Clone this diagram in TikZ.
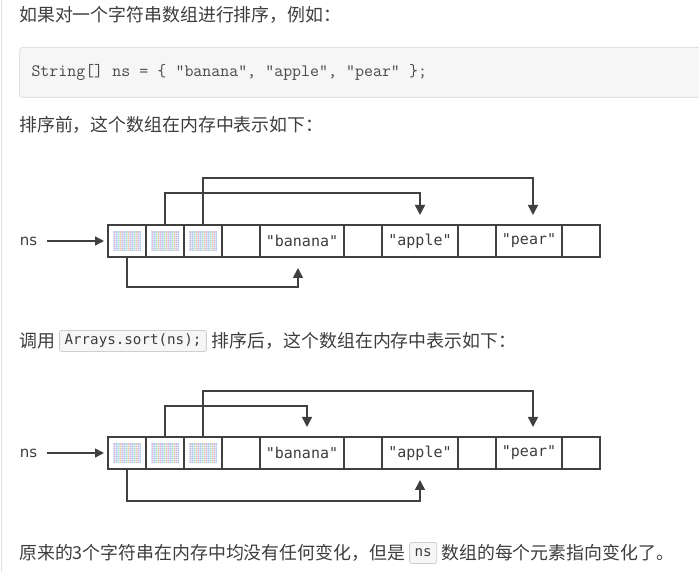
\documentclass[tikz,border=0pt]{standalone}
\usepackage{fontspec}
\usepackage{tikz}
\usetikzlibrary{arrows.meta,positioning,calc}
\newfontfamily\cjk{Noto Sans CJK SC}
\newfontfamily\monolbl{DejaVu Sans Mono}
\newfontfamily\sanslbl{DejaVu Sans}
\definecolor{jtext}{HTML}{3D3D3D}
\definecolor{jline}{HTML}{404040}
\definecolor{jcode}{HTML}{4A4A4A}
\definecolor{jcodebg}{HTML}{F6F6F6}
\definecolor{jcodeedge}{HTML}{E2E2E2}
\definecolor{jinedge}{HTML}{CFCFCF}
\definecolor{jpage}{HTML}{E0E0E0}
\definecolor{jpink}{HTML}{E4B0D6}
\definecolor{jblue}{HTML}{A9C6EE}
\definecolor{jgreen}{HTML}{B6DEC0}
\definecolor{jorange}{HTML}{EEC69E}
\tikzset{
  para/.style={anchor=west,inner sep=0pt,text=jtext,
               font=\cjk\fontsize{17.9}{22}\selectfont},
  codeblock/.style={draw=jcodeedge,fill=jcodebg,rounded corners=3pt,line width=1pt,
                    anchor=north west,minimum width=700pt,minimum height=50pt,
                    inner xsep=12pt,inner ysep=0pt,text width=676pt,align=left,
                    text=jcode,font=\ttfamily\fontsize{17.4}{20}\selectfont},
  inlinecode/.style={draw=jinedge,fill=jcodebg,rounded corners=2pt,line width=0.8pt,
                     inner xsep=5pt,inner ysep=0pt,minimum height=21pt,text=jtext,
                     font=\monolbl\fontsize{14.2}{16}\selectfont},
  cell/.style={draw=jline,line width=1.5pt,minimum width=38pt,minimum height=32pt,
               inner sep=0pt,outer sep=0pt,text=jtext,
               font=\monolbl\fontsize{15}{18}\selectfont},
  nslab/.style={inner sep=0pt,text=jtext,font=\sanslbl\fontsize{15}{18}\selectfont},
  ptr/.style={-{Triangle[length=10pt,width=10pt]},line width=1.5pt,jline},
  inarr/.style={-{Triangle[length=9pt,width=9pt]},line width=1.5pt,jline},
  stripe0/.style={jpink},
  stripe1/.style={jblue},
  stripe2/.style={jgreen},
  stripe3/.style={jorange},
}
% coloured grid that stands for a stored reference
\newcommand\ptrfill[1]{%
  \fill[jblue!60] ([shift={(5pt,6pt)}]#1.south west) rectangle ([shift={(-5pt,-6pt)}]#1.north east);
  \foreach \i in {0,...,13}{
    \pgfmathtruncatemacro\k{mod(\i,4)}
    \draw[stripe\k,line width=1pt] ([xshift=\i*2pt+6pt,yshift=6pt]#1.south west) -- ++(0,20pt);
  }
  \foreach \j in {1,...,9}{
    \draw[white,opacity=.5,line width=.6pt] ([xshift=5pt,yshift=6pt+\j*2pt]#1.south west) -- ++(28pt,0);
  }
}
% one array row in memory: #1 prefix, #2 y
\newcommand\memrow[2]{%
  \node[nslab] (#1ns) at (28.5,#2) {ns};
  \node[cell,anchor=west] (#1c1) at (108,#2) {};
  \node[cell,right=0pt of #1c1] (#1c2) {};
  \node[cell,right=0pt of #1c2] (#1c3) {};
  \node[cell,right=0pt of #1c3] (#1c4) {};
  \node[cell,right=0pt of #1c4,minimum width=84pt] (#1ban) {"banana"};
  \node[cell,right=0pt of #1ban] (#1g1) {};
  \node[cell,right=0pt of #1g1,minimum width=76pt] (#1app) {"apple"};
  \node[cell,right=0pt of #1app] (#1g2) {};
  \node[cell,right=0pt of #1g2,minimum width=66pt] (#1pear) {"pear"};
  \node[cell,right=0pt of #1pear] (#1g3) {};
  \draw[inarr,shorten <=10pt,shorten >=4pt] (#1ns) -- (#1c1);
  \foreach \c in {c1,c2,c3}{\ptrfill{#1\c}}
}

\begin{document}
\begin{tikzpicture}[x=1pt,y=1pt]
  \useasboundingbox (0,0) rectangle (699,572);
  \draw[jpage,line width=1.2pt] (1.7,0) -- (1.7,572);

  \node[para] (intro) at (19,557) {如果对一个字符串数组进行排序，例如：};
  \node[codeblock] (decl) at (19,525) {\spaceskip=0.525em\relax String[] ns = \{ "banana", "apple", "pear" \};};
  \node[para] (before) at (19,447) {排序前，这个数组在内存中表示如下：};

  % before sorting
  \memrow{a}{331}
  \draw[ptr] (ac3.north) -- ++(0,47) -| ([shift={(4pt,10pt)}]apear.north);
  \draw[ptr] (ac2.north) -- ++(0,32) -| ([yshift=10pt]aapp.north);
  \draw[ptr] (ac1.south) -- ++(0,-30) -| ([shift={(-4pt,-11pt)}]aban.south);

  \node[para] (call) at (19,231) {调用};
  \node[inlinecode,right=4pt of call] (sortcall) {Arrays.sort(ns);};
  \node[para,right=5pt of sortcall] (after) {排序后，这个数组在内存中表示如下：};

  % after sorting
  \memrow{b}{119}
  \draw[ptr] (bc3.north) -- ++(0,46) -| ([shift={(4pt,10pt)}]bpear.north);
  \draw[ptr] (bc2.north) -- ++(0,31) -| ([shift={(5pt,10pt)}]bban.north);
  \draw[ptr] (bc1.south) -- ++(0,-32) -| ([yshift=-11pt]bapp.south);

  \node[para] (remark) at (19,19) {原来的3个字符串在内存中均没有任何变化，但是};
  \node[inlinecode,right=4pt of remark] (nsref) {ns};
  \node[para,right=4pt of nsref] (remark2) {数组的每个元素指向变化了。};
\end{tikzpicture}
\end{document}
